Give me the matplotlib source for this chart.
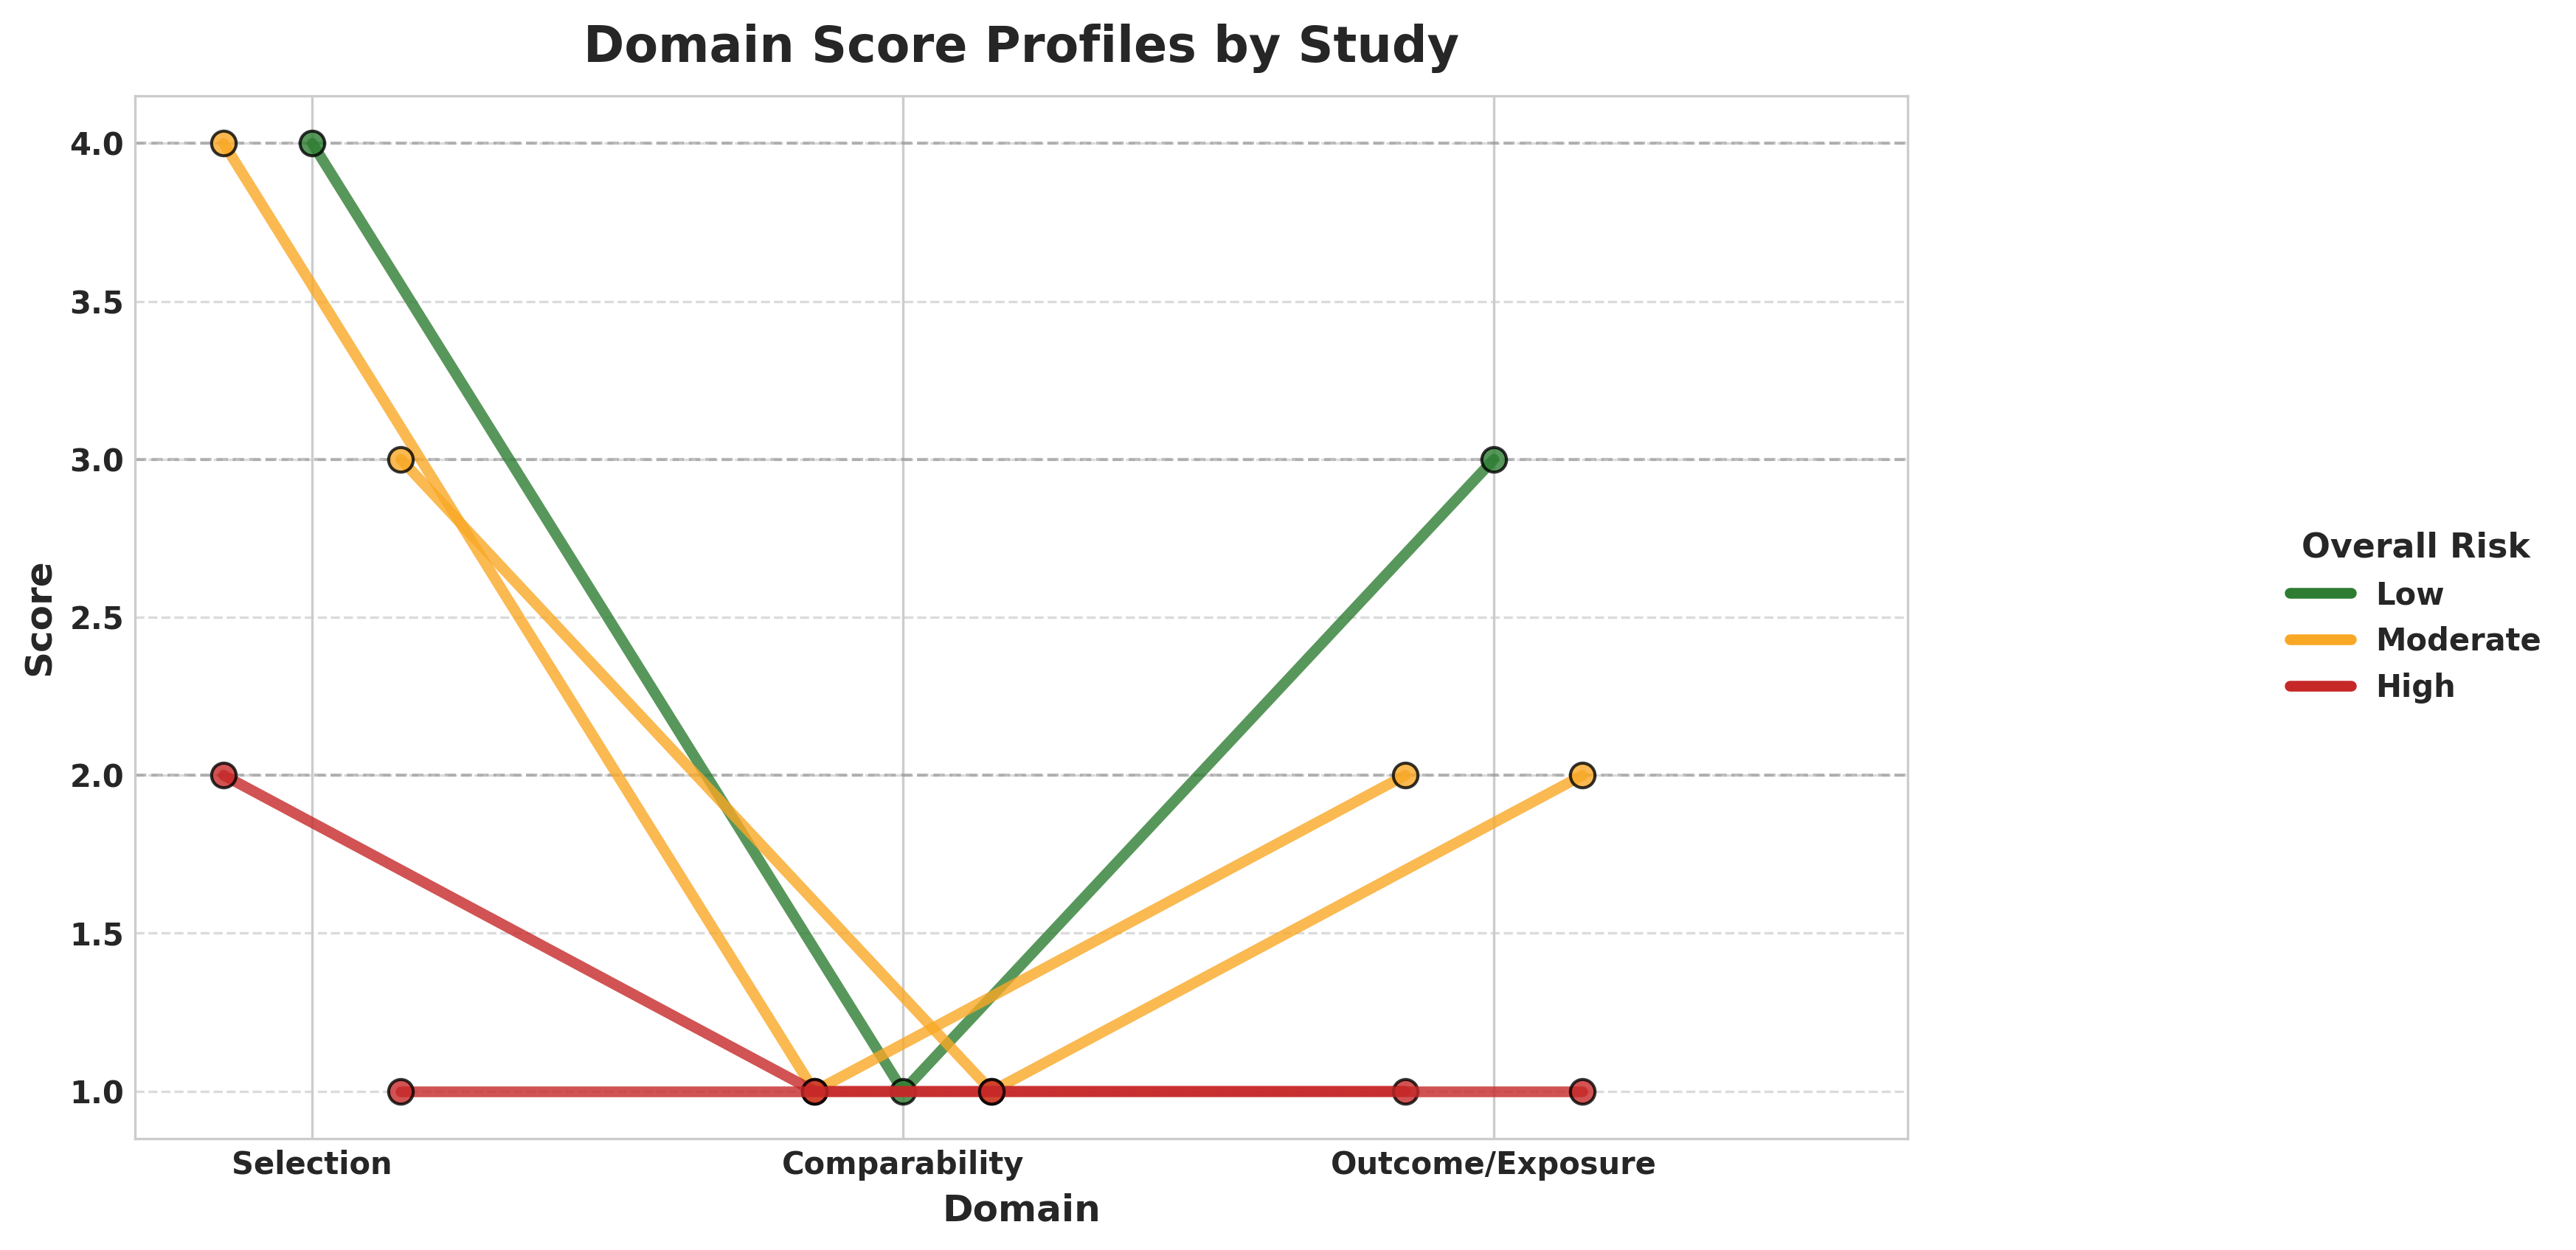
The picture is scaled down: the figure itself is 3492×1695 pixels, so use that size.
import numpy as np
import matplotlib.pyplot as plt
import seaborn as sns
from matplotlib.lines import Line2D

sns.set_style('whitegrid')

domains = ['Selection', 'Comparability', 'Outcome/Exposure']
studies = ['Study A', 'Study B', 'Study C', 'Study D', 'Study E']
risk = ['Moderate', 'Low', 'Moderate', 'High', 'High']
selection = [4, 4, 3, 2, 1]
comparability = [1, 1, 1, 1, 1]
outcome = [2, 3, 2, 1, 1]

risk_order = ['Low', 'Moderate', 'High']
risk_colors = {'Low': '#2e7d32', 'Moderate': '#f9a825', 'High': '#c62828'}

scores = np.array([selection, comparability, outcome]).T
xpos = np.arange(len(domains))

fig = plt.figure(figsize=(11.64, 5.65), dpi=300)
ax = fig.add_axes([0.0524, 0.0891, 0.7405 - 0.0524, 0.9233 - 0.0891])

# small horizontal offset per study inside its risk group
for r in risk_order:
    idx = [i for i, v in enumerate(risk) if v == r]
    offs = np.linspace(-0.15, 0.15, len(idx)) if len(idx) > 1 else [0.0]
    for i, o in zip(idx, offs):
        ax.plot(xpos + o, scores[i], color=risk_colors[r], lw=3.5, alpha=0.8,
                marker='o', markersize=8, markeredgecolor='black',
                markeredgewidth=1, zorder=3)

for y in [2, 3, 4]:
    ax.axhline(y, color='gray', ls='--', lw=1, alpha=0.5, zorder=1)

ax.yaxis.grid(True, linestyle='--', alpha=0.7)
ax.tick_params(length=0)
ax.set_xticks(xpos)
ax.set_xticklabels(domains, fontweight='bold', fontsize=10)
for t in ax.get_yticklabels():
    t.set_fontweight('bold')
    t.set_fontsize(10)
ax.set_xlim(-0.3, 2.7)
ax.set_xlabel('Domain', fontsize=12, fontweight='bold')
ax.set_ylabel('Score', fontsize=12, fontweight='bold')
ax.set_title('Domain Score Profiles by Study', fontsize=16, fontweight='bold', pad=11)

handles = [Line2D([0], [0], color=risk_colors[r], lw=3.5, solid_capstyle='round')
           for r in risk_order]
ax.legend(handles, risk_order, title='Overall Risk', loc='center left',
          bbox_to_anchor=(1.2, 0.5), frameon=False,
          prop={'weight': 'bold', 'size': 10},
          title_fontproperties={'weight': 'bold', 'size': 11})

plt.savefig('out.png', dpi=300)
